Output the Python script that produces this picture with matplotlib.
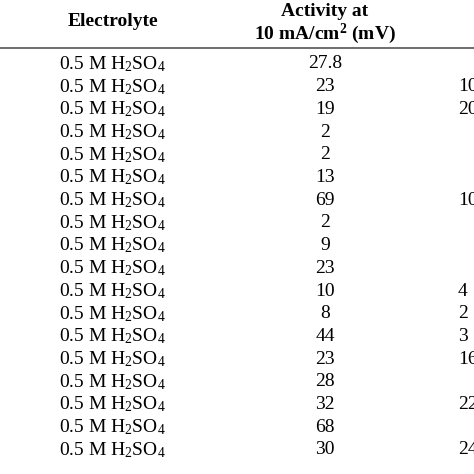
import matplotlib
matplotlib.use('Agg')
import matplotlib.pyplot as plt

plt.rcParams['font.family'] = ['Liberation Serif', 'DejaVu Serif']
plt.rcParams['mathtext.fontset'] = 'custom'
plt.rcParams['mathtext.rm'] = 'Liberation Serif'
plt.rcParams['mathtext.it'] = 'Liberation Serif:italic'
plt.rcParams['mathtext.bf'] = 'Liberation Serif:bold'

electrolyte = [r'0.5 M H$_2$SO$_4$'] * 18
activity = ['27.8', '23', '19', '2', '2', '13', '69', '2', '9', '23',
            '10', '8', '44', '23', '28', '32', '68', '30']
# third column is cut off at the right edge in the reference; only these parts show
third = ['', '10', '20', '', '', '', '10', '', '', '',
         '4', '2', '3', '16', '', '22', '', '24']

fig = plt.figure(figsize=(4.74, 4.74), dpi=100)
W, H = 474, 474

def fx(x): return x / W
def fy(y): return 1 - y / H

fs = 14
fig.text(fx(113), fy(22), 'Electrolyte', ha='center', va='center', fontsize=fs, fontweight='bold')
fig.text(fx(325), fy(12), 'Activity at', ha='center', va='center', fontsize=fs, fontweight='bold')
fig.text(fx(325), fy(34), r'10 mA/cm$^{\mathbf{2}}$ (mV)', ha='center', va='center', fontsize=fs, fontweight='bold')
fig.add_artist(plt.Line2D([0, 1], [fy(48), fy(48)], color='#555555', lw=1.2))

y0, dy = 64, 22.7
for i, (e, a, t) in enumerate(zip(electrolyte, activity, third)):
    y = fy(y0 + i * dy)
    fig.text(fx(112), y, e, ha='center', va='center', fontsize=fs)
    fig.text(fx(325), y, a, ha='center', va='center', fontsize=fs)
    if t:
        fig.text(fx(458), y, t, ha='left', va='center', fontsize=fs)

fig.savefig('out.png', dpi=100, facecolor='white')
